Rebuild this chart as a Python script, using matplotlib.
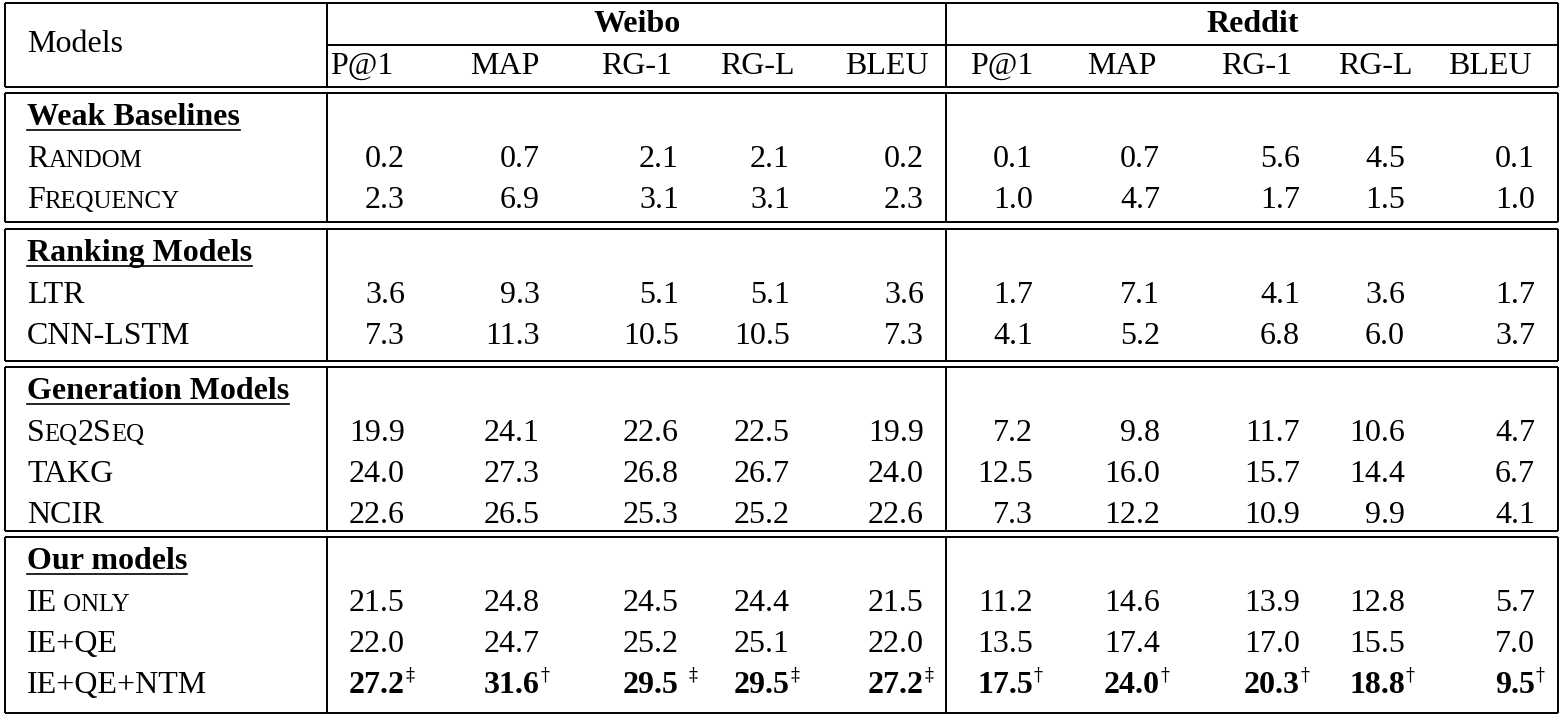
import matplotlib
matplotlib.use("Agg")
import matplotlib.pyplot as plt

datasets = ["Weibo", "Reddit"]
metrics = ["P@1", "MAP", "RG-1", "RG-L", "BLEU"]
sections = ["Weak Baselines", "Ranking Models", "Generation Models", "Our models"]
models = [
    [("R", "ANDOM"), ("F", "REQUENCY")],
    [("LTR", ""), ("CNN-LSTM", "")],
    [("S", "EQ", "2S", "EQ"), ("TAKG", ""), ("NCIR", "")],
    [("IE", " ONLY"), ("IE+QE", ""), ("IE+QE+NTM", "")],
]
values = [
    [[0.2, 0.7, 2.1, 2.1, 0.2, 0.1, 0.7, 5.6, 4.5, 0.1],
     [2.3, 6.9, 3.1, 3.1, 2.3, 1.0, 4.7, 1.7, 1.5, 1.0]],
    [[3.6, 9.3, 5.1, 5.1, 3.6, 1.7, 7.1, 4.1, 3.6, 1.7],
     [7.3, 11.3, 10.5, 10.5, 7.3, 4.1, 5.2, 6.8, 6.0, 3.7]],
    [[19.9, 24.1, 22.6, 22.5, 19.9, 7.2, 9.8, 11.7, 10.6, 4.7],
     [24.0, 27.3, 26.8, 26.7, 24.0, 12.5, 16.0, 15.7, 14.4, 6.7],
     [22.6, 26.5, 25.3, 25.2, 22.6, 7.3, 12.2, 10.9, 9.9, 4.1]],
    [[21.5, 24.8, 24.5, 24.4, 21.5, 11.2, 14.6, 13.9, 12.8, 5.7],
     [22.0, 24.7, 25.2, 25.1, 22.0, 13.5, 17.4, 17.0, 15.5, 7.0],
     [27.2, 31.6, 29.5, 29.5, 27.2, 17.5, 24.0, 20.3, 18.8, 9.5]],
]
best_marks = ["‡", "†", " ‡", "‡", "‡", "†", "†", "†", "†", "†"]

W, H = 1561, 715
fig = plt.figure(figsize=(W / 100, H / 100), dpi=100)
ax = fig.add_axes([0, 0, 1, 1])
ax.set_xlim(0, W); ax.set_ylim(H, 0); ax.axis("off")
FONT = "Liberation Serif"
FS = 23
lw = 1.4
r = fig.canvas.get_renderer()

def hline(y, x0=5, x1=1558):
    ax.plot([x0, x1], [y, y], color="black", lw=lw, solid_capstyle="butt")

def vline(x, y0, y1):
    ax.plot([x, x], [y0, y1], color="black", lw=lw, solid_capstyle="butt")

def width(t):
    return t.get_window_extent(renderer=r).width

hline(3); hline(87); hline(45, 327)
vline(5, 3, 87); vline(327, 3, 87); vline(946, 3, 87); vline(1558, 3, 87)
ax.text(27, 45, "Models", fontsize=FS, family=FONT, va="center", ha="left")
ax.text(637, 24, datasets[0], fontsize=FS, family=FONT, weight="bold", va="center", ha="center")
ax.text(1253, 24, datasets[1], fontsize=FS, family=FONT, weight="bold", va="center", ha="center")
hdr_x = [362, 505, 637, 757, 887, 1002, 1122, 1257, 1375, 1490]
for i, x in enumerate(hdr_x):
    ax.text(x, 66, metrics[i % 5], fontsize=FS, family=FONT, va="center", ha="center")

num_right = [405, 540, 679, 790, 924, 1033, 1160, 1300, 1405, 1535]
sec_tops = [93, 229, 367, 537]
sec_bots = [222, 361, 531, 713]
row_h = 41

def smallcaps(x, y, parts):
    for k, p in enumerate(parts):
        if not p:
            continue
        fs = FS if k % 2 == 0 else FS * 0.78
        t = ax.text(x, y, p, fontsize=fs, family=FONT, va="baseline", ha="left")
        x += width(t)

for si, sec in enumerate(sections):
    top, bot = sec_tops[si], sec_bots[si]
    hline(top); hline(bot)
    vline(5, top, bot); vline(327, top, bot); vline(946, top, bot); vline(1558, top, bot)
    yc = top + 22
    t = ax.text(27, yc + 10, sec, fontsize=FS, family=FONT, weight="bold", va="baseline", ha="left")
    ax.plot([27, 27 + width(t)], [yc + 15, yc + 15], color="black", lw=1.2)
    for ri, m in enumerate(models[si]):
        yb = yc + 11 + row_h * (ri + 1)
        smallcaps(27, yb, m)
        row = values[si][ri]
        last = si == 3 and ri == 2
        for ci, v in enumerate(row):
            ax.text(num_right[ci], yb, f"{v:.1f}", fontsize=FS, family=FONT,
                    weight="bold" if last else "normal", va="baseline", ha="right")
            if last:
                mk = best_marks[ci]
                off = 10 if mk.startswith(" ") else 1
                ax.text(num_right[ci] + off, yb - 13, mk.strip(), fontsize=13,
                        family="DejaVu Serif", va="baseline", ha="left")

fig.savefig("out.png", dpi=100)
